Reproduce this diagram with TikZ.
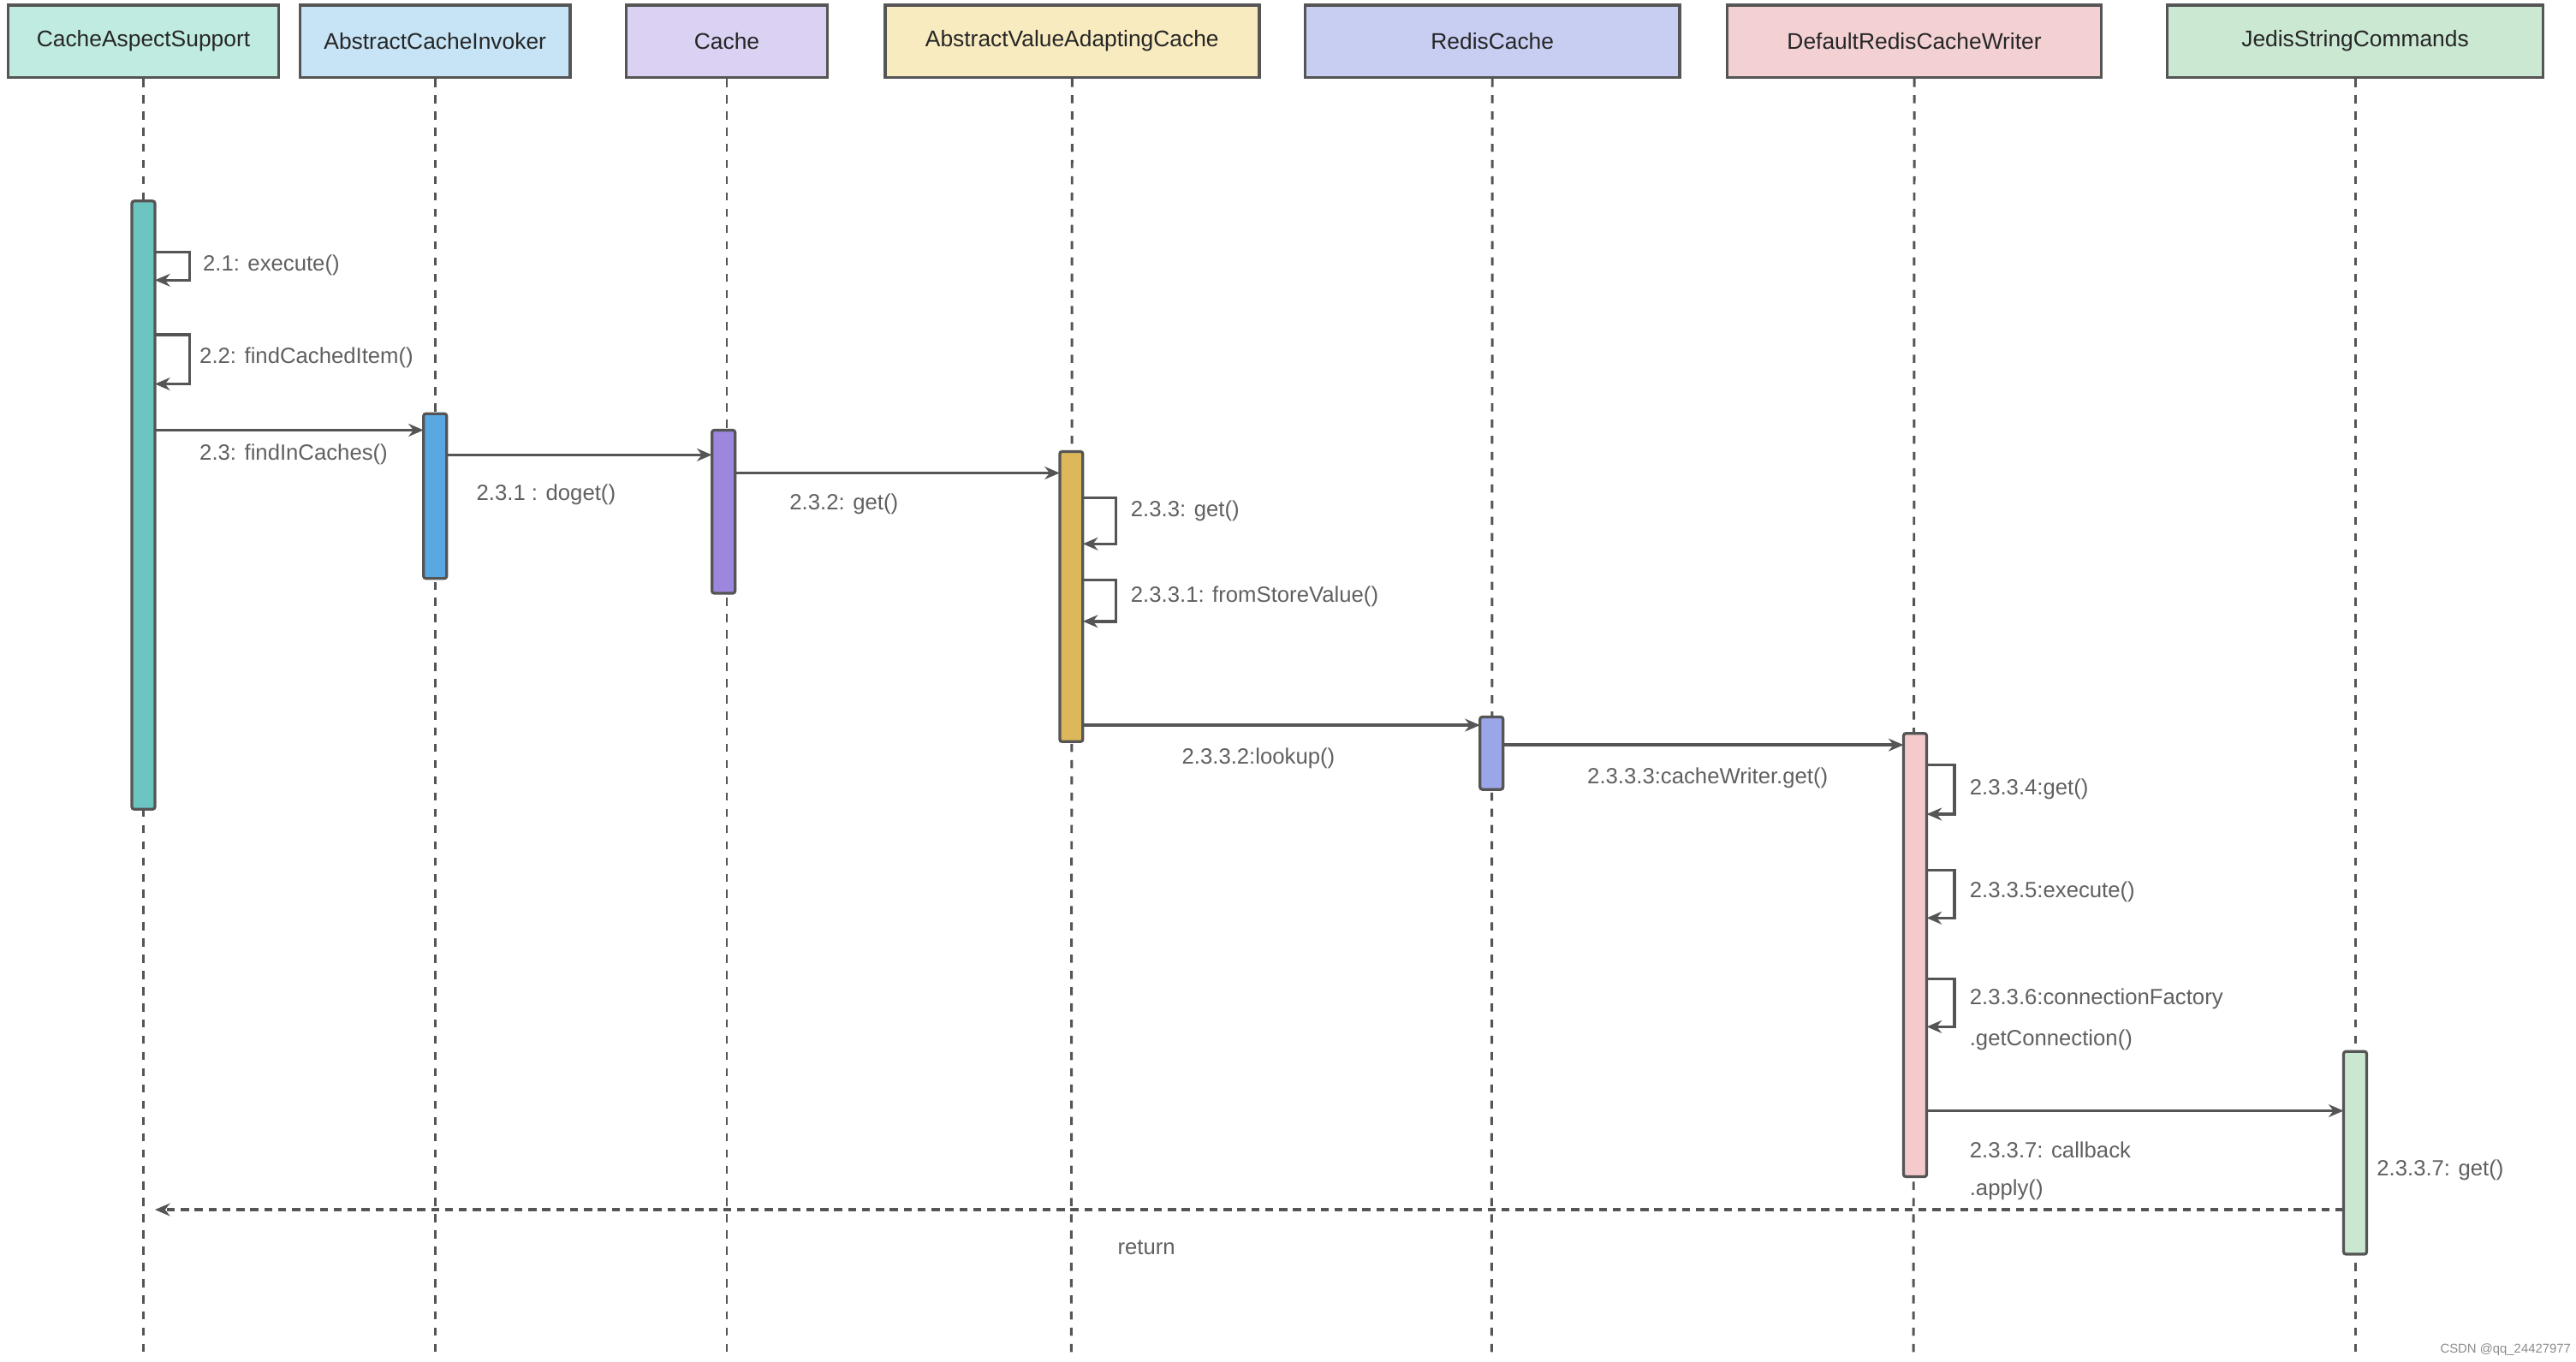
\documentclass[tikz,border=0pt]{standalone}
\usepackage{fontspec}
\setmainfont{Liberation Sans}
\usetikzlibrary{arrows.meta}
\definecolor{lc}{HTML}{555555}
\definecolor{tc}{HTML}{606060}
\definecolor{c1}{HTML}{C0EBE1}\definecolor{c2}{HTML}{C6E4F5}\definecolor{c3}{HTML}{DAD1F3}
\definecolor{c4}{HTML}{F8EBC0}\definecolor{c5}{HTML}{C7CEF2}\definecolor{c6}{HTML}{F3D1D3}
\definecolor{c7}{HTML}{CAE8D2}
\definecolor{b1}{HTML}{6CC5C0}\definecolor{b2}{HTML}{5AA8E2}\definecolor{b3}{HTML}{9D86DE}
\definecolor{b4}{HTML}{DDB85A}\definecolor{b5}{HTML}{9AA6E8}\definecolor{b6}{HTML}{F4CACC}
\definecolor{b7}{HTML}{CAE8D0}
\begin{document}
\begin{tikzpicture}[x=0.05cm,y=-0.05cm,
  hdr/.style={draw=lc,line width=2.6pt,minimum height=44*0.05cm,inner sep=0pt,font=\fontsize{19.5}{24}\selectfont,text=black!85},
  bar/.style={draw=lc,line width=2.4pt,rounded corners=2pt},
  life/.style={draw=lc,line width=2.2pt,dash pattern=on 7pt off 7pt},
  msg/.style={draw=lc,line width=2.6pt,-{Stealth[length=13pt,width=11pt]}},
  rmsg/.style={msg,dash pattern=on 7pt off 5pt},
  lbl/.style={anchor=west,inner sep=0pt,text=tc,font=\fontsize{19}{22}\selectfont}]
\useasboundingbox (0,0) rectangle (1563,826);
\fill[white] (0,0) rectangle (1563,826);
% headers
\node[hdr,fill=c1,minimum width=164*0.05cm] (h1) at (87,25) {CacheAspectSupport};
\node[hdr,fill=c2,minimum width=164*0.05cm] (h2) at (264,25) {AbstractCacheInvoker};
\node[hdr,fill=c3,minimum width=122*0.05cm] (h3) at (441,25) {Cache};
\node[hdr,fill=c4,minimum width=227*0.05cm] (h4) at (650.5,25) {AbstractValueAdaptingCache};
\node[hdr,fill=c5,minimum width=227*0.05cm] (h5) at (905.5,25) {RedisCache};
\node[hdr,fill=c6,minimum width=227*0.05cm] (h6) at (1161.5,25) {DefaultRedisCacheWriter};
\node[hdr,fill=c7,minimum width=228*0.05cm] (h7) at (1429,25) {JedisStringCommands};
% lifelines
\foreach \x/\n in {87/1,264/2,441/3,650/4,905/5,1161/6,1429/7}{
  \coordinate (e\n) at (\x,822);
  \draw[life] (h\n.south) -- (e\n);}
% activation bars
\draw[bar,fill=b1] (80,122) rectangle (94,491);
\draw[bar,fill=b2] (257,251) rectangle (271,351);
\draw[bar,fill=b3] (432,261) rectangle (446,360);
\draw[bar,fill=b4] (643,274) rectangle (657,450);
\draw[bar,fill=b5] (898,435) rectangle (912,479);
\draw[bar,fill=b6] (1155,445) rectangle (1169,714);
\draw[bar,fill=b7] (1422,638) rectangle (1436,761);
% self messages
\newcommand{\selfmsg}[4]{%
  \coordinate (sa) at (#1,#2); \coordinate (sb) at (#1,#3);
  \draw[msg] (sa) -- ++(#4,0) |- (sb);}
\selfmsg{94}{153}{170}{21}
\node[lbl] (l21) at (123,161) {2.1: execute()};
\selfmsg{94}{203}{233}{21}
\node[lbl] (l22) at (121,217) {2.2: findCachedItem()};
\selfmsg{657}{302}{330}{20}
\node[lbl] (l233) at (686,310) {2.3.3: get()};
\selfmsg{657}{352}{377}{20}
\node[lbl] (l2331) at (686,362) {2.3.3.1: fromStoreValue()};
\selfmsg{1169}{464}{494}{17}
\node[lbl] (l2334) at (1195,479) {2.3.3.4:get()};
\selfmsg{1169}{528}{557}{17}
\node[lbl] (l2335) at (1195,541) {2.3.3.5:execute()};
\selfmsg{1169}{594}{623}{17}
\node[lbl] (l2336) at (1195,606) {2.3.3.6:connectionFactory};
\node[lbl] (l2336b) at (1195,631) {.getConnection()};
% messages
\coordinate (a1) at (94,261); \coordinate (a2) at (257,261);
\draw[msg] (a1) -- (a2); \node[lbl] (l23) at (121,276) {2.3: findInCaches()};
\coordinate (m1) at (271,276); \coordinate (m2) at (432,276);
\draw[msg] (m1) -- (m2); \node[lbl] (l231) at (289,300) {2.3.1 : doget()};
\coordinate (n1) at (446,287); \coordinate (n2) at (643,287);
\draw[msg] (n1) -- (n2); \node[lbl] (l232) at (479,306) {2.3.2: get()};
\coordinate (d1) at (657,440); \coordinate (d2) at (898,440);
\draw[msg] (d1) -- (d2); \node[lbl] (l2332) at (717,460) {2.3.3.2:lookup()};
\coordinate (f1) at (912,452); \coordinate (f2) at (1155,452);
\draw[msg] (f1) -- (f2); \node[lbl] (l2333) at (963,472) {2.3.3.3:cacheWriter.get()};
\coordinate (g1) at (1169,674); \coordinate (g2) at (1422,674);
\draw[msg] (g1) -- (g2);
\node[lbl] (l2337) at (1195,698) {2.3.3.7: callback};
\node[lbl] (l2337b) at (1195,722) {.apply()};
\node[lbl] (l2337g) at (1442,710) {2.3.3.7: get()};
\coordinate (r1) at (1422,734); \coordinate (r2) at (94,734);
\draw[rmsg] (r1) -- (r2); \node[lbl] (lret) at (678,757) {return};
\node[anchor=east,inner sep=0pt,text=black!45,font=\fontsize{11}{12}\selectfont] (wm) at (1560,819) {CSDN @qq\_24427977};
\end{tikzpicture}
\end{document}
